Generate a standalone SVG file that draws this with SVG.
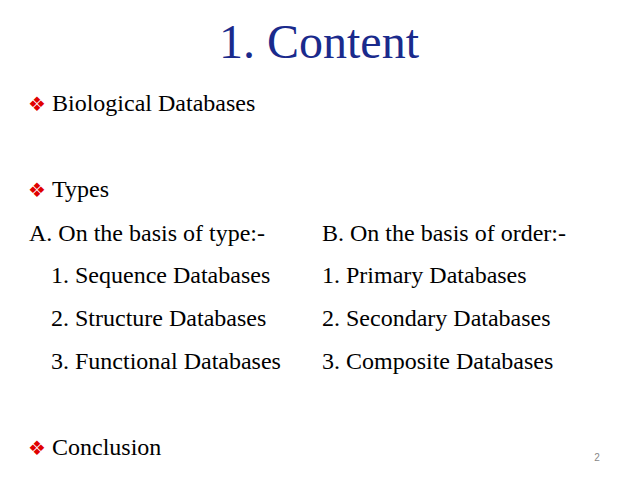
<svg xmlns="http://www.w3.org/2000/svg" width="638" height="478" viewBox="0 0 638 478">
<style>
.t{font-family:"Liberation Serif","Times New Roman",serif;font-size:24px;fill:#000}
.b{font-family:"DejaVu Sans",sans-serif;font-size:20px;fill:#e00000}
</style>
<rect width="638" height="478" fill="#fff"/>
<text x="319" y="58" text-anchor="middle" font-family="'Liberation Serif',serif" font-size="48" fill="#1a2a8c">1. Content</text>
<text class="b" x="28" y="111">❖</text><text class="t" x="52" y="111">Biological Databases</text>
<text class="b" x="28" y="197">❖</text><text class="t" x="52" y="197">Types</text>
<text class="t" x="29" y="241">A. On the basis of type:-</text>
<text class="t" x="51" y="283">1. Sequence Databases</text>
<text class="t" x="51" y="326">2. Structure Databases</text>
<text class="t" x="51" y="369">3. Functional Databases</text>
<text class="t" x="322" y="241">B. On the basis of order:-</text>
<text class="t" x="322" y="283">1. Primary Databases</text>
<text class="t" x="322" y="326">2. Secondary Databases</text>
<text class="t" x="322" y="369">3. Composite Databases</text>
<text class="b" x="28" y="455">❖</text><text class="t" x="52" y="455">Conclusion</text>
<text x="597" y="461" text-anchor="middle" font-family="'Liberation Sans',sans-serif" font-size="10" fill="#888">2</text>
</svg>
